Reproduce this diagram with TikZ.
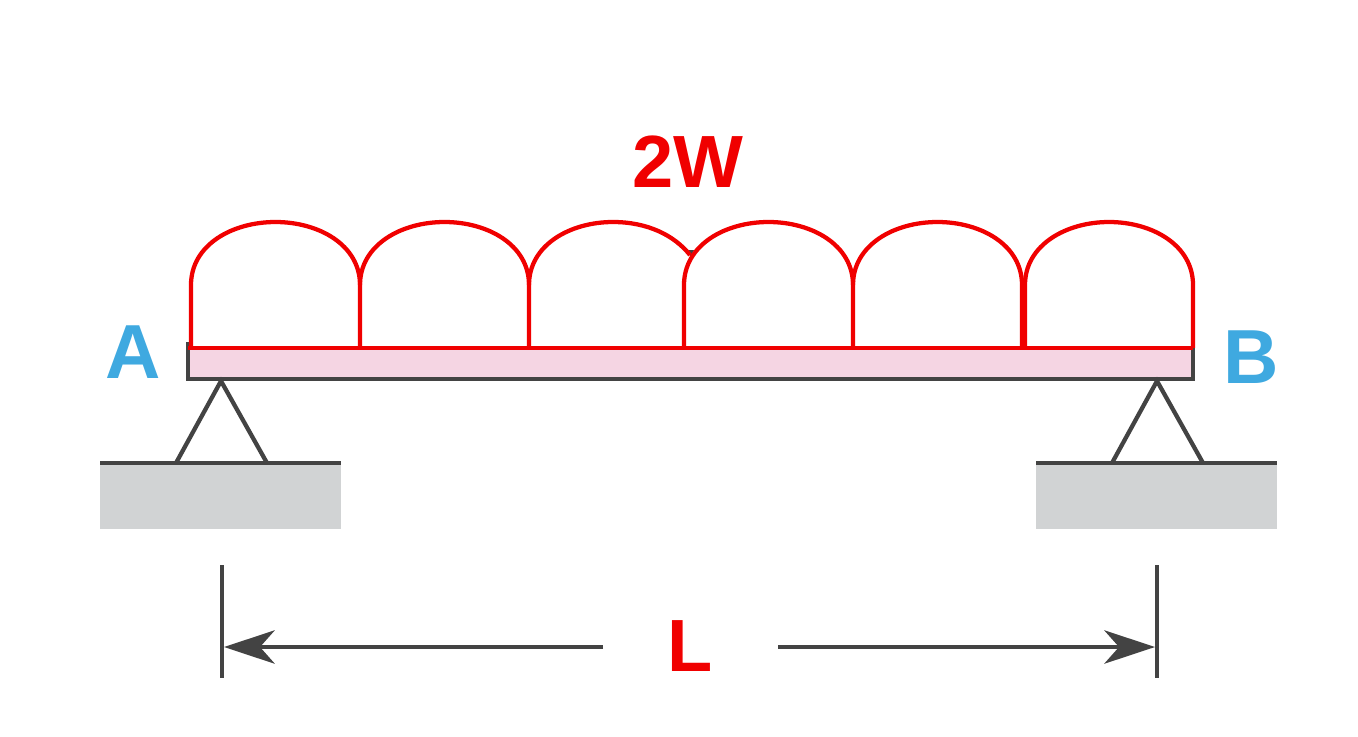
\documentclass[tikz,border=0pt]{standalone}
\usepackage{fontspec}
\setmainfont{Liberation Sans}
\usetikzlibrary{arrows.meta}
\definecolor{loadred}{HTML}{F00000}
\definecolor{labelblue}{HTML}{3FA9E0}
\definecolor{beampink}{HTML}{F5D5E3}
\definecolor{groundgrey}{HTML}{D1D3D4}
\definecolor{linegrey}{HTML}{434343}
\tikzset{
  load/.style={draw=loadred, line width=3.2pt},
  solid line/.style={draw=linegrey, line width=3.2pt},
  dim line/.style={draw=linegrey, line width=3pt},
  dim arrow/.style={dim line, -{Stealth[inset=11pt, length=38pt, width=25pt]}},
  ground/.style={fill=groundgrey, minimum width=180.75pt, minimum height=49.5pt, inner sep=0, outer sep=0},
  letter/.style={inner sep=0, outer sep=0, font=\fontsize{57.5}{60}\selectfont\bfseries},
  red letter/.style={inner sep=0, outer sep=0, text=loadred, font=\fontsize{55.5}{60}\selectfont\bfseries},
}
\begin{document}
\begin{tikzpicture}[x=0.75pt, y=-0.75pt]
  \useasboundingbox (0,0) rectangle (1358,736);

  \node[fill=beampink, minimum width=753.75pt, minimum height=23.25pt, inner sep=0, outer sep=0] (beam) at (690.5,363.5) {};
  \node[ground] (groundA) at (220.5,496) {};
  \node[ground] (groundB) at (1156.5,496) {};

  \coordinate (stubA) at (188,342);
  \coordinate (stubB) at (1193,342);
  \draw[solid line, line width=3.6pt] (stubA) |- (beam.south east) -- (stubB);
  \draw[solid line] (groundA.north west) -- (groundA.north east);
  \draw[solid line] (groundB.north west) -- (groundB.north east);

  \coordinate (apexA) at (221,381);
  \coordinate (apexB) at (1157,381);
  \coordinate (baseA1) at (176,463);
  \coordinate (baseA2) at (267,463);
  \coordinate (baseB1) at (1112,463);
  \coordinate (baseB2) at (1203,463);
  \draw[solid line] (baseA1) -- (apexA) -- (baseA2);
  \draw[solid line] (baseB1) -- (apexB) -- (baseB2);

  % load
  \fill[linegrey] (687,250) -- (694,250) -- (690.5,257) -- cycle;
  \draw[load] (191,348) -- (191,285) .. controls (191,245) and (232,222) .. (275.5,222) .. controls (319,222) and (360,245) .. (360,285) -- (360,348);
  \draw[load] (360,285) .. controls (360,245) and (401,222) .. (444.5,222) .. controls (488,222) and (529,245) .. (529,285) -- (529,348);
  \draw[load] (529,285) .. controls (529,245) and (570,222) .. (613,222) .. controls (647,222) and (674,235) .. (690,255);
  \draw[load] (684,348) -- (684,285) .. controls (684,245) and (725,222) .. (768.5,222) .. controls (812,222) and (853,245) .. (853,285) -- (853,348);
  \draw[load] (853,285) .. controls (853,245) and (894,222) .. (937.5,222) .. controls (981,222) and (1022,245) .. (1022,285) -- (1022,348);
  \draw[load] (1025,348) -- (1025,285) .. controls (1025,245) and (1066,222) .. (1109,222) .. controls (1152,222) and (1193,245) .. (1193,285) -- (1193,348);
  \draw[load] (beam.north west) -- (beam.north east);

  \node[letter, text=labelblue] (A) at (133,352) {A};
  \node[letter, text=labelblue] (B) at (1251,357) {B};
  \node[red letter] (W) at (688,162) {2W};
  \node[red letter, minimum width=131.25pt] (L) at (690.5,646) {L};

  \coordinate (dimAt) at (222,565);
  \coordinate (dimAb) at (222,678);
  \coordinate (dimBt) at (1157,565);
  \coordinate (dimBb) at (1157,678);
  \coordinate (dimA) at (224,647);
  \coordinate (dimB) at (1155,647);
  \draw[dim line] (dimAt) -- (dimAb);
  \draw[dim line] (dimBt) -- (dimBb);
  \draw[dim arrow] (L.west |- dimA) -- (dimA);
  \draw[dim arrow] (L.east |- dimB) -- (dimB);
\end{tikzpicture}
\end{document}
